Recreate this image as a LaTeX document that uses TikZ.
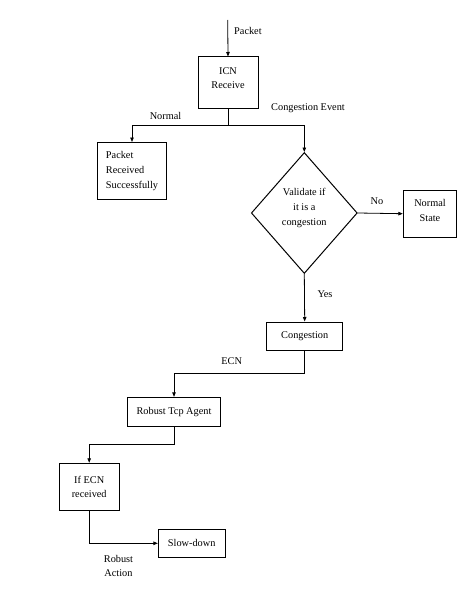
\documentclass[tikz,border=0pt]{standalone}
\usepackage{fontspec}
\setmainfont{Liberation Serif}
\usetikzlibrary{arrows.meta,shapes.geometric}
\begin{document}
\begin{tikzpicture}[x=1pt,y=-1pt,
  every node/.style={font=\fontsize{10.3}{14.8}\selectfont, text=black},
  box/.style={draw=black, line width=1pt, inner sep=2pt},
  dia/.style={draw=black, line width=1pt, shape=diamond, inner sep=0pt},
  lbl/.style={inner sep=1pt},
  conn/.style={draw=black, line width=0.8pt},
  arr/.style={conn, -{Triangle[length=4.5pt,width=3.5pt]}}]
\useasboundingbox (0,0) rectangle (474,594);

\coordinate (start) at (227.7,20);
\node[box, minimum width=60pt, minimum height=51pt, align=center, text depth=9pt] (icn) at (228,82.5) {ICN\\Receive};
\node[box, minimum width=69pt, minimum height=57pt, align=left] (prs) at (132,171) {Packet\\Received\\Successfully};
\node[dia, minimum width=106pt, minimum height=121pt, align=center, text depth=12pt] (val) at (304.3,213) {Validate if\\it is a\\congestion};
\node[box, minimum width=53.4pt, minimum height=47.3pt, align=center, text depth=7pt] (ns) at (430,213.7) {Normal\\State};
\node[box, minimum width=76pt, minimum height=28pt] (cong) at (304.7,336) {Congestion};
\node[box, minimum width=92.3pt, minimum height=28.7pt] (rta) at (174,411.7) {Robust Tcp Agent};
\node[box, minimum width=60.3pt, minimum height=47.4pt, align=center] (ife) at (89.2,487) {If ECN\\received};
\node[box, minimum width=66.7pt, minimum height=28pt] (slow) at (191.7,543.3) {Slow-down};

\coordinate (j1) at (228,125);

\draw[arr] (start) -- (icn.north);
\draw[conn] (icn.south) -- (j1);
\draw[arr] (j1) -| (prs.north);
\draw[arr] (j1) -| (val.north);
\draw[arr] (val.east) -- (ns.west);
\draw[arr] (val.south) -- (cong.north);
\draw[arr] (cong.south) -- ++(0,22.7) -| (rta.north);
\draw[arr] (rta.south) -- ++(0,18.3) -| (ife.north);
\draw[arr] (ife.south) |- (slow.west);

\node[lbl, anchor=west] (lpacket) at (233,31) {Packet};
\node[lbl] (lnormal) at (165.5,116) {Normal};
\node[lbl] (lce) at (308,108) {Congestion Event};
\node[lbl] (lno) at (377,201) {No};
\node[lbl] (lyes) at (325,294) {Yes};
\node[lbl] (lecn) at (231.7,361) {ECN};
\node[lbl, align=center] (lra) at (118.5,566) {Robust\\Action};
\end{tikzpicture}
\end{document}
